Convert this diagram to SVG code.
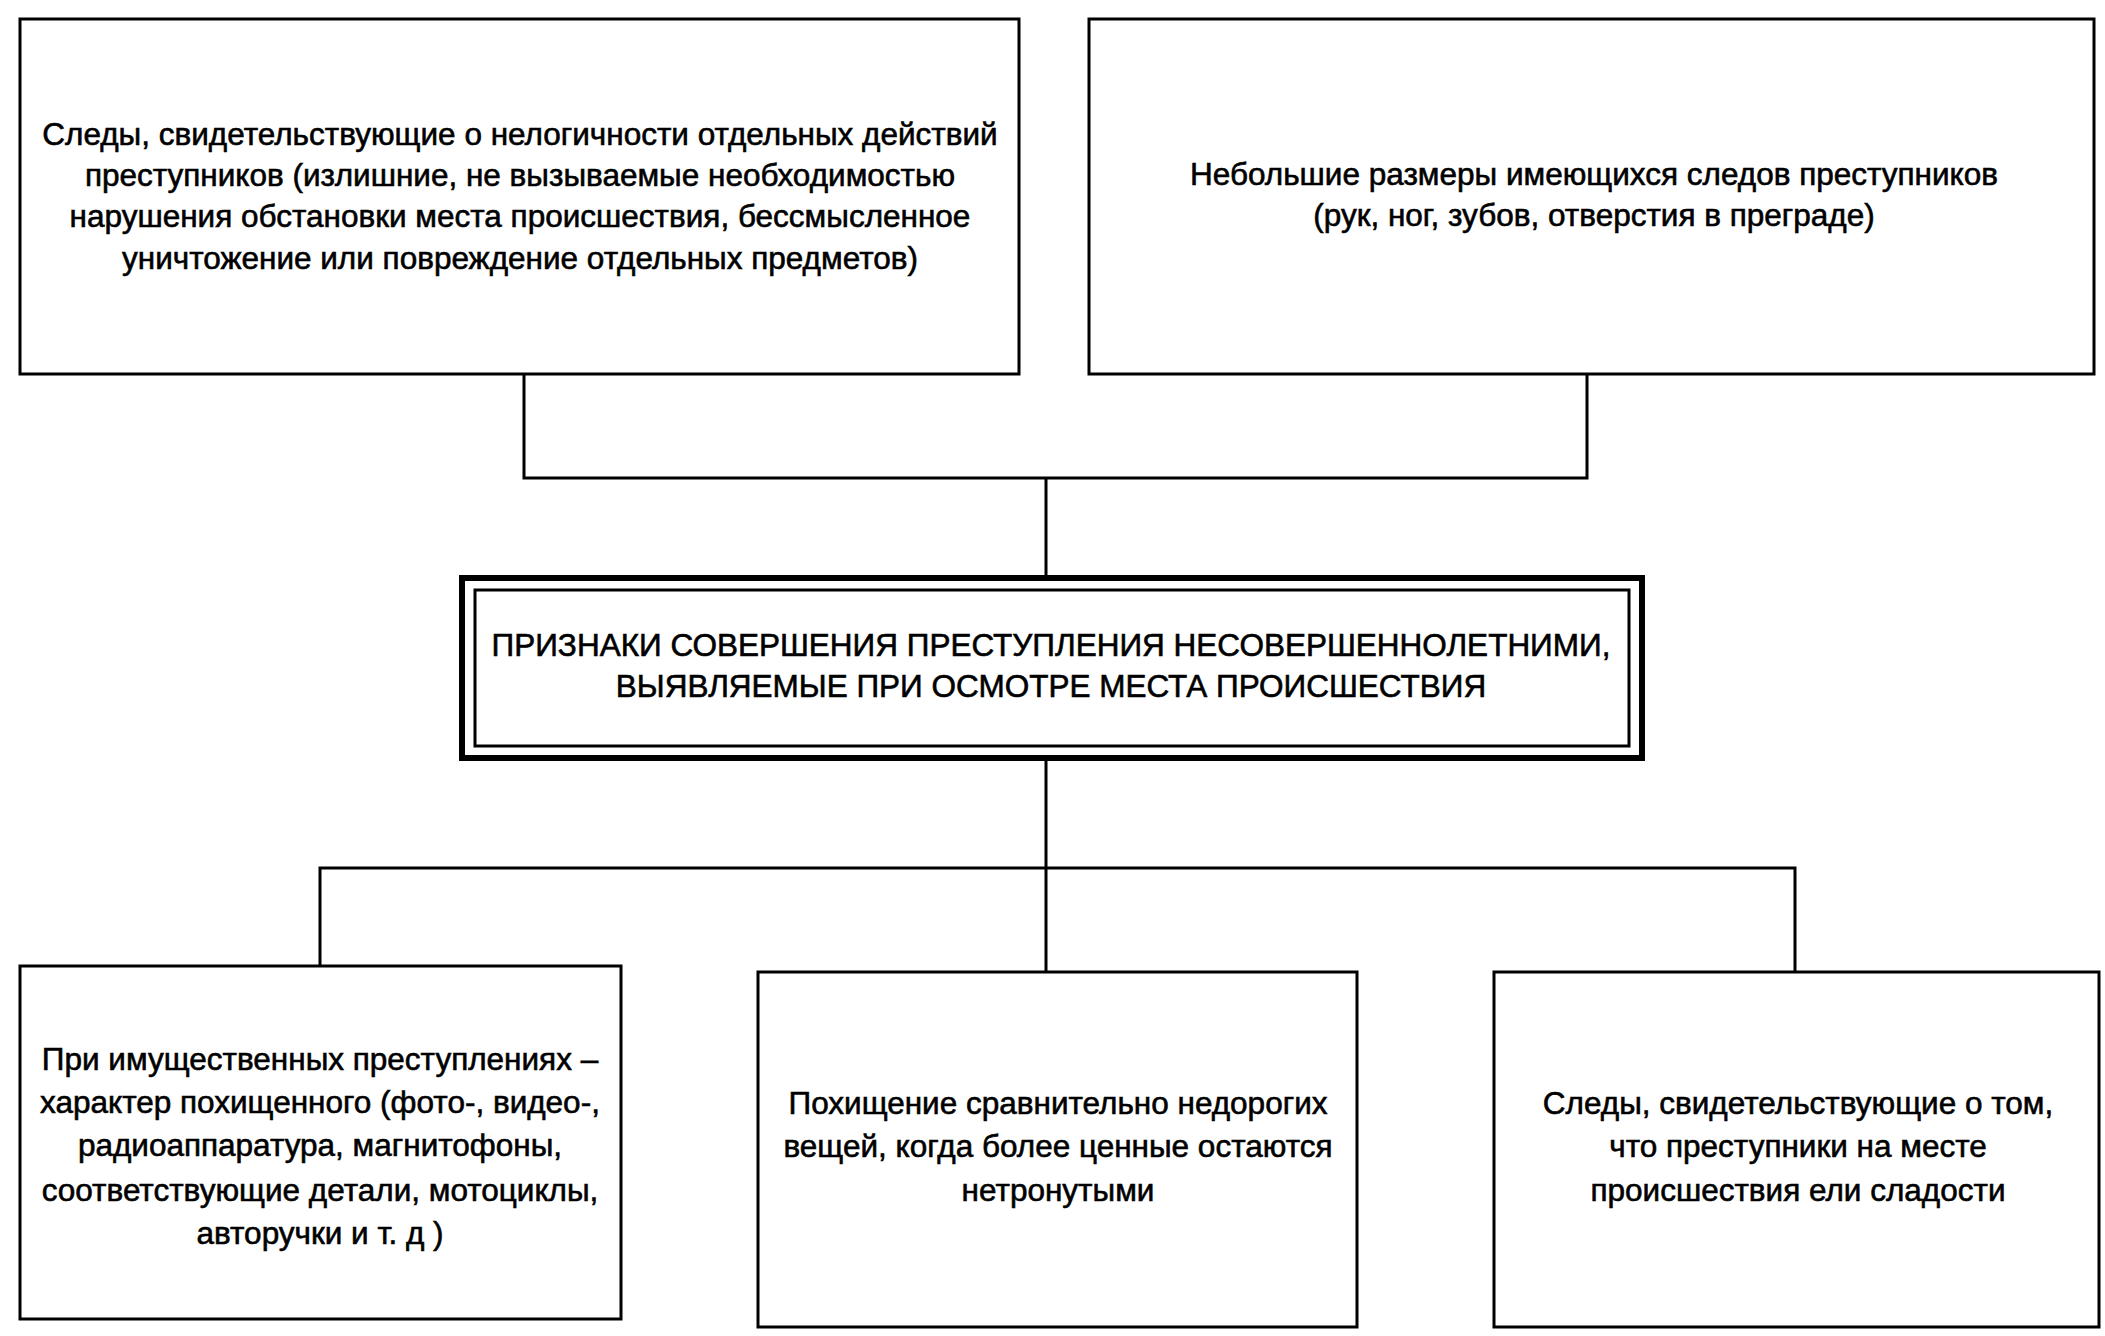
<svg xmlns="http://www.w3.org/2000/svg" width="2105" height="1336" viewBox="0 0 2105 1336">
<style>
.b{fill:#fff;stroke:#000;stroke-width:3}
text{font-family:"Liberation Sans",Arial,sans-serif;font-size:31.5px;fill:#000;text-anchor:middle;stroke:#000;stroke-width:0.6}
.c{stroke:#000;stroke-width:3;fill:none}
</style>
<rect width="2105" height="1336" fill="#fff"/>
<g id="connectors">
<path class="c" d="M524 374V478H1587V374M1046 478V576M1046 760V868M320 966V868H1795V972M1046 868V972"/>
</g>
<g id="n1"><rect class="b" x="20" y="19" width="999" height="355"/>
<text x="520" y="145">Следы, свидетельствующие о нелогичности отдельных действий</text>
<text x="520" y="186">преступников (излишние, не вызываемые необходимостью</text>
<text x="520" y="227">нарушения обстановки места происшествия, бессмысленное</text>
<text x="520" y="269">уничтожение или повреждение отдельных предметов)</text></g>
<g id="n2"><rect class="b" x="1089" y="19" width="1005" height="355"/>
<text x="1594" y="185">Небольшие размеры имеющихся следов преступников</text>
<text x="1594" y="226">(рук, ног, зубов, отверстия в преграде)</text></g>
<g id="center"><rect x="462" y="578" width="1180" height="180" fill="#fff" stroke="#000" stroke-width="6"/>
<rect x="475" y="590" width="1154" height="156" fill="none" stroke="#000" stroke-width="3"/>
<text x="1051" y="656">ПРИЗНАКИ СОВЕРШЕНИЯ ПРЕСТУПЛЕНИЯ НЕСОВЕРШЕННОЛЕТНИМИ,</text>
<text x="1051" y="697">ВЫЯВЛЯЕМЫЕ ПРИ ОСМОТРЕ МЕСТА ПРОИСШЕСТВИЯ</text></g>
<g id="n3"><rect class="b" x="20" y="966" width="601" height="353"/>
<text x="320" y="1070">При имущественных преступлениях –</text>
<text x="320" y="1113">характер похищенного (фото-, видео-,</text>
<text x="320" y="1156">радиоаппаратура, магнитофоны,</text>
<text x="320" y="1201">соответствующие детали, мотоциклы,</text>
<text x="320" y="1244">авторучки и т. д )</text></g>
<g id="n4"><rect class="b" x="758" y="972" width="599" height="355"/>
<text x="1058" y="1114">Похищение сравнительно недорогих</text>
<text x="1058" y="1157">вещей, когда более ценные остаются</text>
<text x="1058" y="1201">нетронутыми</text></g>
<g id="n5"><rect class="b" x="1494" y="972" width="605" height="355"/>
<text x="1798" y="1114">Следы, свидетельствующие о том,</text>
<text x="1798" y="1157">что преступники на месте</text>
<text x="1798" y="1201">происшествия ели сладости</text></g>
</svg>
